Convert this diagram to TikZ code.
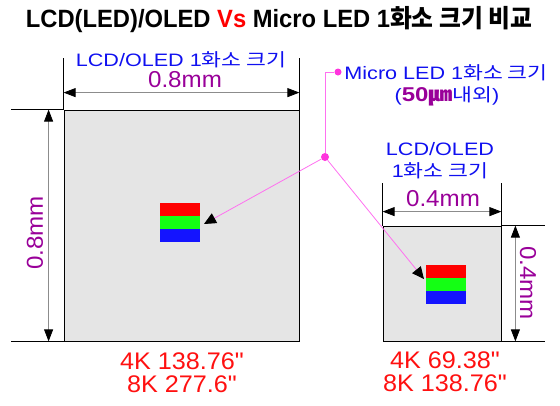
\documentclass[tikz,border=0pt]{standalone}
\usepackage{fontspec}
\setmainfont{Liberation Sans}
\newfontfamily\krfont{Noto Sans CJK KR}
\newcommand{\kr}[1]{{\krfont #1}}
\newcommand{\wide}[1]{\scalebox{1.2}[1]{#1}}
\usepackage{xcolor}
\definecolor{labelblue}{HTML}{1010F0}
\definecolor{sizepurple}{HTML}{990099}
\definecolor{inchred}{HTML}{FF1010}
\definecolor{pxgray}{HTML}{E5E5E5}
\definecolor{dimgray}{HTML}{8C8C8C}
\definecolor{leader}{HTML}{FF70F0}
\definecolor{leaderdot}{HTML}{FF33DD}
\definecolor{subred}{HTML}{FF0000}
\definecolor{subgreen}{HTML}{14FF14}
\definecolor{subblue}{HTML}{1414FF}
\usepackage{tikz}
\usetikzlibrary{arrows.meta,positioning,calc}

\begin{document}
\begin{tikzpicture}[x=1pt,y=1pt,
  title/.style={font=\fontsize{25}{28}\selectfont\bfseries,text=black,inner sep=0pt},
  pixel/.style={rectangle,draw=black,fill=pxgray,line width=0.8pt,inner sep=0pt},
  sub/.style={rectangle,inner sep=0pt,minimum width=40pt,minimum height=13pt},
  blue label/.style={text=labelblue,font=\fontsize{18}{22}\selectfont,align=center,inner sep=0pt},
  size label/.style={text=sizepurple,font=\fontsize{23}{24}\selectfont,inner sep=0pt},
  inch label/.style={text=inchred,font=\fontsize{24}{23}\selectfont,align=center,inner sep=0pt},
  tick/.style={black,line width=0.6pt},
  dim/.style={{Triangle[length=12pt,width=9pt,color=black]}-{Triangle[length=12pt,width=9pt,color=black]},dimgray,line width=0.8pt},
  lead/.style={leader,line width=0.8pt},
  pointer/.style={lead,-{Triangle[length=12pt,width=11pt,color=black]}},
  dot/.style={circle,fill=leaderdot,inner sep=0pt,minimum size=#1}]
  \useasboundingbox (0,0) rectangle (560,-405);
  \node[title] (title) at (279,-20) {\scalebox{0.95}[1]{LCD(LED)/OLED \textcolor{red}{Vs} Micro LED 1\kr{화소 크기 비교}}};

  % large pixel, 0.8mm
  \node[pixel,minimum width=235pt,minimum height=231pt] (bigpx) at (181.5,-225.5) {};
  \node[sub,fill=subred] (bigr) at (180,-209.5) {};
  \node[sub,fill=subgreen] (bigg) at (180,-222.5) {};
  \node[sub,fill=subblue] (bigb) at (180,-235.5) {};
  \draw[tick] (bigpx.north west) -- ++(0,52);
  \draw[tick] (bigpx.north east) -- ++(0,52);
  \draw[dim] ($(bigpx.north west)+(0,17)$) -- ($(bigpx.north east)+(0,17)$);
  \draw[tick] (bigpx.north west) -- ++(-53,0);
  \draw[tick] (bigpx.south west) -- ++(-53,0);
  \draw[dim] ($(bigpx.north west)+(-15,0)$) -- ($(bigpx.south west)+(-15,0)$);
  \node[blue label] (bigname) at (181,-60) {\wide{LCD/OLED 1\kr{화소 크기}}};
  \node[size label] (bigw) at (185,-80) {\scalebox{1.05}[1]{0.8mm}};
  \node[size label,rotate=90] (bigh) at (35,-233) {\scalebox{1.05}[1]{0.8mm}};
  \node[inch label] (biginch) at (182,-373) {\scalebox{1.05}[1]{4K 138.76\textquotedbl}\\\scalebox{1.05}[1]{8K 277.6\textquotedbl}};

  % small pixel, 0.4mm
  \node[pixel,minimum width=118pt,minimum height=115pt] (smallpx) at (442,-283.5) {};
  \node[sub,fill=subred] (smallr) at (446,-271.5) {};
  \node[sub,fill=subgreen] (smallg) at (446,-284.5) {};
  \node[sub,fill=subblue] (smallb) at (446,-297.5) {};
  \draw[tick] (smallpx.north west) -- ++(0,43);
  \draw[tick] (smallpx.north east) -- ++(0,43);
  \draw[dim] ($(smallpx.north west)+(0,14)$) -- ($(smallpx.north east)+(0,14)$);
  \draw[tick] (smallpx.north east) -- ++(44,0);
  \draw[tick] (smallpx.south east) -- ++(44,0);
  \draw[dim] ($(smallpx.north east)+(14,0)$) -- ($(smallpx.south east)+(14,0)$);
  \node[blue label] (smallname) at (440,-161) {\wide{LCD/OLED}\\\wide{1\kr{화소 크기}}};
  \node[size label] (smallw) at (443,-199) {\scalebox{1.05}[1]{0.4mm}};
  \node[size label,rotate=-90] (smallh) at (528,-283) {\scalebox{1.05}[1]{0.4mm}};
  \node[inch label] (smallinch) at (445,-372) {\scalebox{1.05}[1]{4K 69.38\textquotedbl}\\\scalebox{1.05}[1]{8K 138.76\textquotedbl}};

  % micro LED leader
  \node[blue label] (microname) at (446,-73) {\wide{Micro LED 1\kr{화소 크기}}};
  \node[blue label] (microsize) at (447,-96) {\wide{(\textcolor{sizepurple}{\fontsize{20}{22}\selectfont\bfseries 50\kr{㎛}}\kr{내외})}};
  \node[dot=7pt] (mldot) at (338,-72) {};
  \coordinate (mlcorner) at (325,-72);
  \node[dot=8pt] (hub) at (325,-157) {};
  \coordinate (bigtip) at (204,-224);
  \coordinate (smalltip) at (424,-279);
  \draw[lead] (mldot) -- (mlcorner) -- (hub);
  \draw[pointer] (hub) -- (bigtip);
  \draw[pointer] (hub) -- (smalltip);
\end{tikzpicture}
\end{document}
